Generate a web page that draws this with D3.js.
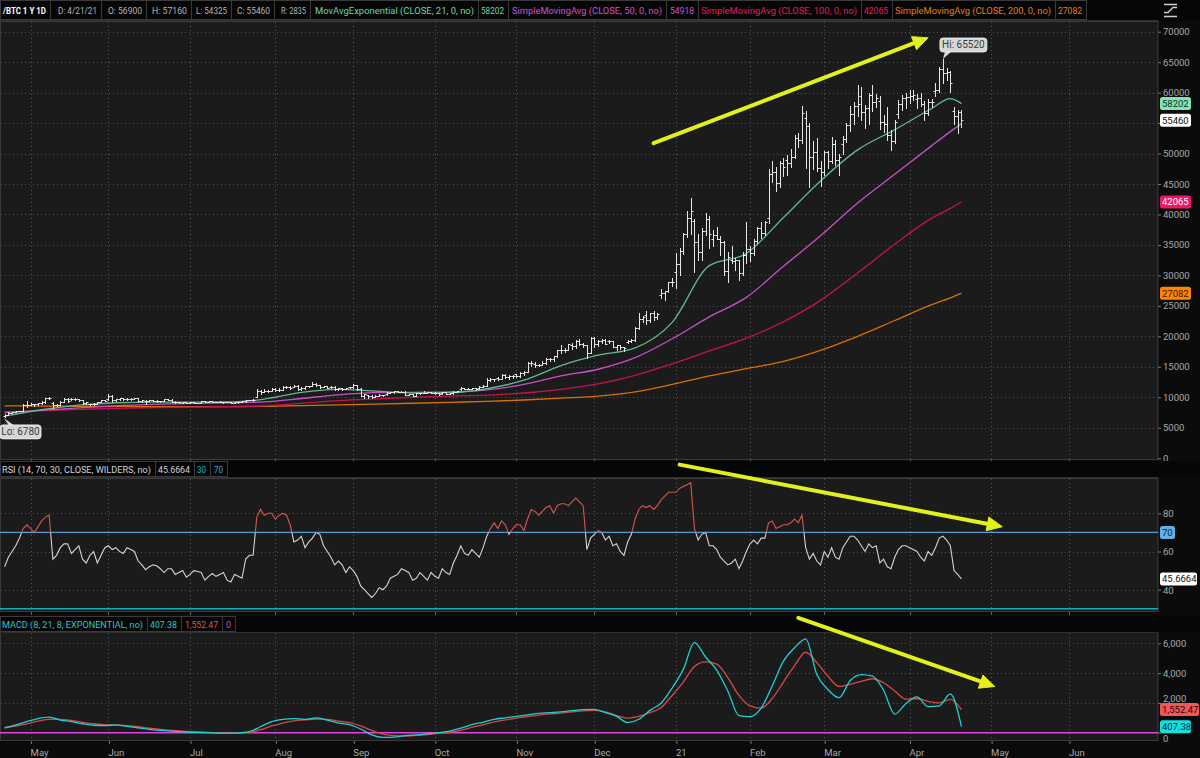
<!DOCTYPE html>
<html>
<head>
<meta charset="utf-8">
<title>/BTC 1 Y 1D</title>
<script src="https://cdn.jsdelivr.net/npm/d3@7/dist/d3.min.js"></script>
<style>
html, body { margin:0; padding:0; background:#0b0b0b; overflow:hidden; }
svg { display:block; }
text { font-family: Roboto, "Open Sans", sans-serif; }
</style>
</head>
<body>
<svg id="chart" width="1200" height="758"></svg>
<script>
// ================= DATA =================
const symbol = "/BTC 1 Y 1D";
const lastDateLabel = "4/21/21";
const holidays = ["2020-12-25", "2021-01-01"];
const calendarStart = "2020-04-22";
const calendarEnd = "2021-06-30";

const monthKeys = ["2020-05","2020-06","2020-07","2020-08","2020-09","2020-10","2020-11","2020-12",
                   "2021-01","2021-02","2021-03","2021-04","2021-05","2021-06"];
const monthLabels = ["May","Jun","Jul","Aug","Sep","Oct","Nov","Dec","21","Feb","Mar","Apr","May","Jun"];
const priceTicks = [0,5000,10000,15000,20000,25000,30000,35000,40000,45000,50000,55000,60000,65000,70000];
const rsiTicks = [40, 60, 80];
const macdTicks = [0, 2000, 4000, 6000];
const rsiOverbought = 70, rsiOversold = 30;

// daily bars [open, high, low, close]
const apr2020 = [[6900,7180,6780,7120],[7120,7650,7050,7480],[7480,7600,7400,7530],[7600,7800,7560,7760],
  [7760,7790,7680,7740],[7750,8950,7720,8800],[8800,9450,8450,8650]];
const may2020 = [[8700,9000,8650,8860],[8880,8950,8600,8890],[8890,9100,8800,9030],[9030,9400,8950,9200],
  [9200,9950,9100,9900],[9900,10000,9700,9800],[9100,9150,8300,8700],[8700,8950,8600,8800],[8800,9350,8750,9300],
  [9300,9850,9250,9780],[9780,9850,9250,9320],[9700,9950,9600,9720],[9720,9850,9500,9750],[9750,9780,9350,9480],
  [9480,9550,8900,9050],[9050,9250,8950,9180],[8900,8970,8700,8900],[8900,9000,8800,8850],[8850,9230,8830,9200],
  [9200,9600,9150,9580],[9580,9620,9350,9450]];
const jun2020 = [[9700,10500,9550,10200],[10200,10300,9300,9500],[9500,9700,9450,9660],[9660,9870,9550,9800],
  [9800,9850,9600,9640],[9700,9800,9600,9770],[9770,9850,9620,9780],[9780,9950,9700,9880],[9880,9950,9250,9320],
  [9320,9550,9300,9480],[9350,9500,8950,9450],[9450,9580,9400,9530],[9530,9560,9380,9460],[9460,9480,9300,9380],
  [9380,9450,9220,9310],[9400,9750,9380,9690],[9690,9720,9580,9630],[9630,9680,9250,9290],[9290,9350,9000,9250],
  [9250,9300,9050,9160],[9100,9220,9050,9190],[9190,9200,9080,9140]];
const jul2020 = [[9140,9290,9100,9230],[9230,9250,9050,9090],[9090,9130,9050,9070],[9100,9360,9080,9340],
  [9340,9360,9220,9250],[9250,9450,9230,9430],[9430,9440,9200,9240],[9240,9300,9150,9290],[9300,9330,9200,9240],
  [9240,9280,9130,9250],[9250,9270,9160,9200],[9200,9210,9050,9130],[9130,9180,9100,9160],[9170,9200,9120,9160],
  [9160,9420,9150,9390],[9390,9550,9280,9520],[9520,9620,9480,9580],[9580,9650,9450,9540],[10100,11300,10050,11000],
  [11000,11250,10600,10900],[10900,11350,10850,11100],[11100,11200,10850,11110],[11110,11450,10950,11350]];
const aug2020 = [[11300,11500,11000,11230],[11230,11450,11100,11190],[11190,11800,11150,11740],[11740,11900,11600,11760],
  [11760,11880,11350,11600],[11700,12050,11650,11880],[11880,11950,11200,11400],[11400,11650,11250,11580],
  [11580,11800,11350,11780],[11780,11850,11650,11770],[11900,12450,11850,12250],[12250,12350,11850,11990],
  [11990,12050,11600,11750],[11750,11900,11650,11870],[11870,11900,11500,11520],[11650,11800,11550,11750],
  [11750,11780,11150,11330],[11330,11550,11250,11460],[11460,11550,11150,11320],[11320,11550,11300,11540],
  [11650,11750,11550,11680]];
const sep2020 = [[11680,12100,11600,11970],[11970,12000,11200,11410],[11410,11450,10150,10240],[10240,10600,9950,10510],
  [10300,10400,9900,10280],[10280,10400,9900,10120],[10120,10350,10050,10240],[10240,10500,10200,10370],
  [10370,10450,10250,10400],[10500,10800,10450,10680],[10680,10900,10620,10790],[10790,11050,10700,10950],
  [10950,11050,10800,10940],[10940,11000,10820,10930],[10900,10980,10350,10420],[10420,10580,10380,10530],
  [10530,10560,10200,10240],[10240,10780,10200,10740],[10740,10780,10600,10690],[10750,10950,10650,10710],
  [10710,10870,10650,10840],[10840,10850,10700,10780]];
const oct2020 = [[10780,10900,10500,10620],[10620,10650,10400,10570],[10650,10800,10550,10790],[10790,10800,10550,10600],
  [10600,10700,10550,10670],[10670,10950,10550,10920],[10920,11100,10850,11060],[11300,11700,11250,11550],
  [11550,11580,11300,11430],[11430,11550,11300,11430],[11430,11600,11280,11500],[11500,11550,11250,11330],
  [11450,11800,11400,11750],[11750,12000,11700,11920],[11920,13200,11900,12820],[12820,13200,12700,12970],
  [12970,13050,12750,12930],[13100,13250,12900,13030],[13030,13800,13000,13650],[13650,13850,13100,13270],
  [13270,13650,12950,13460],[13460,13700,13150,13560]];
const nov2020 = [[13800,13850,13300,13550],[13550,14100,13300,14030],[14030,14250,13600,14150],[14150,15750,14100,15590],
  [15590,15950,15200,15580],[15500,15850,14900,15330],[15330,15500,15100,15310],[15310,15950,15250,15700],
  [15700,16400,15500,16280],[16280,16450,15950,16320],[16200,16800,15900,16720],[16720,17800,16550,17680],
  [17680,18500,17300,17800],[17800,18100,17400,17820],[17820,18800,17750,18680],[18600,18900,18000,18410],
  [18410,19400,18100,19170],[19170,19500,18600,18720],[18720,18900,18300,18500],[18500,18600,16400,17200],
  [17300,19900,17200,19700]];
const dec2020 = [[19700,19950,18300,18800],[18800,19350,18400,19200],[19200,19600,18900,19450],[19450,19550,18700,18700],
  [19200,19400,18900,19170],[19170,19300,18200,18320],[18320,18650,17700,18550],[18550,18600,17950,18250],
  [18250,18300,17600,18040],[19100,19350,18950,19250],[19250,19600,19100,19430],[19430,21500,19300,21350],
  [21350,23800,21200,22800],[22800,23300,22400,23140],[23500,24200,22000,22720],[22720,23900,22400,23800],
  [23800,24150,22700,23240],[23240,23800,22900,23730],[26800,27800,26300,27050],[27050,27500,25900,27360],
  [27360,29000,27300,28840],[28840,29500,28200,29000]];
const jan2021 = [[30500,33600,28000,31900],[31900,34500,30000,34000],[34000,37000,33500,36800],[36800,40500,36300,39400],
  [39400,42700,36800,40600],[39000,39200,30500,35500],[35500,36800,32600,33900],[33900,37800,32500,37300],
  [37300,40200,36700,39200],[39200,39800,34500,36800],[36000,37400,34800,36600],[36600,38000,35900,36000],
  [36000,36400,33400,35500],[35500,35600,30100,30800],[30800,33900,29000,33000],[32500,34900,32000,32300],
  [32300,32900,30900,32500],[32500,32600,29300,30400],[30400,33800,30000,33400],[33400,38800,32000,34300]];
const feb2021 = [[34300,34800,32300,33600],[33600,35900,33400,35700],[35700,37900,35400,37700],[37700,38700,36200,37000],
  [37000,38900,36700,38700],[39500,47500,38600,46700],[46700,48700,45300,46900],[46900,47800,43800,45200],
  [45200,48800,44500,48400],[48400,49200,46300,47800],[49000,49800,46500,48400],[48400,50800,47800,49500],
  [49500,53000,49200,52600],[52600,53300,51000,52200],[52200,57800,51700,56600],[55800,57000,47600,54500],
  [54500,55000,44500,49500],[49500,52100,47500,50300],[50300,52500,47100,47600],[47600,48800,44600,46900]];
const mar2021 = [[46900,50500,46500,50200],[50200,50500,47600,48700],[48700,52700,48400,51500],[51500,52300,48200,49000],
  [49000,50000,46500,49500],[51500,52800,50000,52400],[52400,55000,51900,54700],[54700,57800,53700,56500],
  [56500,58500,54800,57800],[57800,61300,56200,58200],[59500,61000,55500,56800],[56800,58000,54200,57500],
  [57500,60000,54800,59600],[59600,61200,57000,58400],[58400,59800,57600,59200],[58700,59500,54000,55200],
  [55200,56300,53500,54800],[54800,57600,52200,53100],[53100,53800,50600,52100],[52100,55500,51700,55200],
  [56500,58800,55900,58100],[58100,59600,57200,59200],[59200,60000,57500,59300]];
const apr2021 = [[59300,60400,58300,59400],[59400,60500,58800,59600],[58900,59700,57500,59200],[59200,60000,57800,58200],
  [58200,58700,55500,56600],[56600,58900,56300,58500],[58500,59000,57600,58400],[60200,61600,59500,60400],
  [60400,64200,60100,63900],[63900,65520,61500,63200],[63200,64000,62000,63400],[63400,63600,60100,61600],
  [57000,57700,54900,56200],[56200,57200,53300,56900],[56900,57160,54325,55460]];

// moving averages read at these dates
const maDates = ["2020-04-22","2020-05-06","2020-05-20","2020-06-03","2020-06-17","2020-07-01","2020-07-15",
  "2020-07-29","2020-08-12","2020-08-26","2020-09-09","2020-09-23","2020-10-07","2020-10-21","2020-11-04",
  "2020-11-18","2020-12-02","2020-12-16","2020-12-31","2021-01-15","2021-01-29","2021-02-12","2021-02-26",
  "2021-03-12","2021-03-26","2021-04-09","2021-04-16","2021-04-21"];
const ema21 = [6900,7950,8700,9100,9200,9200,9230,9700,10800,11300,11000,10700,10750,11400,12800,15200,16900,
  18100,22300,31600,33600,39500,45500,50600,53900,57400,59000,58202];
const sma50 = [7500,7850,8250,8600,8830,9000,9080,9250,9800,10400,10750,10820,10880,11200,12100,13500,14600,
  16500,19600,23200,26400,31500,36500,41900,46600,51300,53600,54918];
const sma100 = [7600,7800,8000,8180,8300,8380,8450,8600,9000,9450,9750,10000,10200,10350,10700,11300,12200,
  13600,15500,17600,19700,22400,25900,30400,35100,39400,41000,42065];
const sma200 = [8600,8560,8520,8490,8470,8450,8470,8520,8620,8750,8880,9020,9170,9330,9550,9850,10200,
  10900,12100,13500,14700,15900,17700,20000,22600,25200,26300,27082];
const maNames = ["MovAvgExponential (CLOSE, 21, 0, no)","SimpleMovingAvg (CLOSE, 50, 0, no)",
  "SimpleMovingAvg (CLOSE, 100, 0, no)","SimpleMovingAvg (CLOSE, 200, 0, no)"];

// RSI(14) per bar
const rsi2020 = [52,57,60,63,67,72,74,72,70,73, 76,78,79,56,58,62,64,64,59,61, 63,56,54,58,60,54,58,62,63,61,
  62,60,59,62,61,60,55,53,50.5,52, 53,52.5,51,49,51,51,48,49,50,46.5, 48,50,49.5,49,45,47,48.5,47,48,49,
  45,44,48,47,46,56,58,58,78,82, 79,80,80,77,79,80,79,74,65,66, 68,62,65,67,70,69,63,60,57,53,
  55,53,49,52,50,47,42,40,38,36, 38,41,40,42,46,47,48,51,50,49, 45,46,49,47,45,49,47,46,51,49,
  48,54,58,63,59,58,61,59,57,62, 68,72,75,72,76,74,69,72,74,74, 71,77,82,81,79,81,83,84,80,84,
  85,85,84,86,88,86,84,61,67,69, 71,70,66,68,63,64,60,58,65,69, 77,82,84,83,84,82,84,87,89,91,91];
const rsi2021 = [91,93,94,95,96,72,66,69,70,63, 63,61,57,55,53,54,56,51,55,60, 64,66,64,67,67,75,76,72,73,74,
  74,75,77,75,79,62,56,59,55,53, 60,57,62,57,56,62,65,68,68,66, 63,60,64,62,63,54,56,52,51,57,
  61,63,63,62,61,60,57,55,60,58, 62,67,68,66,63,50,48,45.6664];

// MACD(8,21,8) read every 3rd bar
const macdStep = 3;
const macdValue = [300,520,750,950,1050,850,750,600,500,480, 520,430,330,220,150,100,60,30,0,-20,
  -30,-10,80,400,750,900,950,900,1000,850, 650,550,250,-150,-320,-300,-200,-150,-80,0,
  100,300,550,700,900,1000,1100,1200,1300,1350, 1400,1480,1550,1570,1350,1100,680,900,1500,1980,
  3000,4250,6050,5080,4200,2800,1150,1080,1650,3150, 4800,5700,6300,3900,2900,2350,3500,3900,3800,2850,
  1250,1950,2400,1750,1800,2600,407.38];
const macdAvg = [350,450,600,780,900,900,820,700,600,540, 510,470,400,300,220,150,100,60,30,0,
  -15,-20,20,200,450,650,800,860,920,900, 780,670,460,150,-100,-200,-220,-180,-120,-50,
  30,150,350,530,720,860,980,1080,1180,1260, 1320,1400,1470,1500,1400,1150,980,1100,1350,1680,
  2500,3400,4450,4750,4600,3700,2500,1800,1650,2300, 3400,4500,5400,4700,3800,3100,3250,3450,3620,3350,
  2800,2250,2280,2100,2000,2240,1552.47];

// hand-drawn trend arrows (date, value)
const trendArrows = [
  {panel: "price", from: ["2020-12-23", 51700], to: ["2021-04-08", 69000]},
  {panel: "rsi",   from: ["2021-01-05", 105.5], to: ["2021-05-06", 73]},
  {panel: "macd",  from: ["2021-02-18", 7700],  to: ["2021-05-04", 3100]}
];

// ================= CHART =================
const FONT = "Roboto, 'Open Sans', sans-serif";
const parse = d3.utcParse("%Y-%m-%d"), fmt = d3.utcFormat("%Y-%m-%d");
const days = d3.utcDay.range(parse(calendarStart), d3.utcDay.offset(parse(calendarEnd), 1))
  .filter(d => d.getUTCDay() !== 0 && d.getUTCDay() !== 6 && !holidays.includes(fmt(d)))
  .map(fmt);
const idxOf = new Map(days.map((d, i) => [d, i]));

const ohlc = [].concat(apr2020, may2020, jun2020, jul2020, aug2020, sep2020, oct2020, nov2020,
  dec2020, jan2021, feb2021, mar2021, apr2021);
const bars = ohlc.map((b, i) => ({i, date: days[i], o: b[0], h: b[1], l: b[2], c: b[3]}));
const last = bars[bars.length - 1];
const rsi = rsi2020.concat(rsi2021).map((v, i) => ({i, v}));
const macdV = macdValue.map((v, k) => ({i: k * macdStep, v}));
const macdA = macdAvg.map((v, k) => ({i: k * macdStep, v}));
const lastOf = a => a[a.length - 1];

const PR = 1158;
const PT = 21, PB = 460, RT = 478, RB = 612, MT = 632, MB = 741;
const x = d3.scaleLinear().domain([-1.25, 311]).range([0, PR]);
const y = d3.scaleLinear().domain([0, 70000]).range([458.2, 31.7]);
const yR = d3.scaleLinear().domain([40, 80]).range([589.7, 513.3]);
const yM = d3.scaleLinear().domain([0, 6000]).range([732.7, 643.3]);

const C = {bg: "#0b0b0b", plot: "#1b1b1b", border: "#3a3a3a", grid: "#565656", axis: "#a9a9a9",
  bar: "#e6e6e6", ema: "#62b98e", sma50: "#c950c9", sma100: "#c8124f", sma200: "#d97000",
  rsi: "#d4d4d4", rsiHot: "#d6574f", ob: "#4d9fd6", os: "#10b2ba", macd: "#1fd0d6", avg: "#d54a48",
  zero: "#dd44dd", yellow: "#e3f01b"};

const svg = d3.select("#chart");
svg.append("rect").attr("width", 1200).attr("height", 758).attr("fill", C.bg);

const defs = svg.append("defs");
function clip(id, x0, y0, w, h) {
  defs.append("clipPath").attr("id", id).append("rect").attr("x", x0).attr("y", y0).attr("width", w).attr("height", h);
}
clip("cP", 0, PT, PR, PB - PT);
clip("cR", 0, RT, PR, RB - RT);
clip("cM", 0, MT, PR, MB - MT);
clip("cRhi", 0, RT, PR, yR(rsiOverbought) - RT);
clip("cRlo", 0, yR(rsiOverbought), PR, RB - yR(rsiOverbought));

// panels
[[PT, PB], [RT, RB], [MT, MB]].forEach(([t, b]) => {
  svg.append("rect").attr("x", 0.5).attr("y", t + 0.5).attr("width", PR - 0.5).attr("height", b - t - 1)
    .attr("fill", C.plot).attr("stroke", C.border);
});

// grids
const monthIdx = monthKeys.map(k => days.findIndex(d => d.startsWith(k)));
function vgrid(t, b) {
  svg.append("g").selectAll("line").data(monthIdx).join("line")
    .attr("x1", d => Math.round(x(d)) + 0.5).attr("x2", d => Math.round(x(d)) + 0.5)
    .attr("y1", t + 1).attr("y2", b - 1)
    .attr("stroke", C.grid).attr("stroke-dasharray", "1,3");
}
function hgrid(vals, sc) {
  svg.append("g").selectAll("line").data(vals).join("line")
    .attr("x1", 1).attr("x2", PR - 1)
    .attr("y1", d => Math.round(sc(d)) + 0.5).attr("y2", d => Math.round(sc(d)) + 0.5)
    .attr("stroke", C.grid).attr("stroke-dasharray", "1,3");
}
vgrid(PT, PB); vgrid(RT, RB); vgrid(MT, MB);
hgrid(priceTicks.filter(d => d > 0), y);
hgrid(rsiTicks, yR);
hgrid(macdTicks.filter(d => d > 0), yM);

// small month ticks under the price and RSI panels
[PB, RB].forEach(b => {
  svg.append("g").selectAll("line").data(monthIdx).join("line")
    .attr("x1", d => Math.round(x(d)) + 0.5).attr("x2", d => Math.round(x(d)) + 0.5)
    .attr("y1", b).attr("y2", b + 3).attr("stroke", "#666");
});

// ----- price panel -----
const gP = svg.append("g").attr("clip-path", "url(#cP)");
const maLine = d3.line().x(d => x(d.i)).y(d => y(d.v)).curve(d3.curveMonotoneX);
[[sma200, C.sma200], [sma100, C.sma100], [sma50, C.sma50], [ema21, C.ema]].forEach(([arr, col]) => {
  const pts = maDates.map((d, j) => ({i: idxOf.get(d), v: arr[j]}));
  gP.append("path").attr("d", maLine(pts)).attr("fill", "none").attr("stroke", col).attr("stroke-width", 1.3);
});
const px = v => Math.round(v) + 0.5;
gP.append("g").selectAll("path").data(bars).join("path")
  .attr("d", b => {
    const cx = px(x(b.i));
    return `M${cx},${px(y(b.h)) - 0.5}V${px(y(b.l)) + 0.5}M${cx - 2},${px(y(b.o))}H${cx}M${cx},${px(y(b.c))}H${cx + 2}`;
  })
  .attr("fill", "none").attr("stroke", C.bar).attr("stroke-width", 1);

// Hi / Lo bubbles
const hiBar = bars.reduce((a, b) => b.h > a.h ? b : a);
const loBar = bars.reduce((a, b) => b.l < a.l ? b : a);
{
  const hx = x(hiBar.i), hy = y(hiBar.h);
  svg.append("path").attr("d", `M${hx + 2},${hy - 7}L${hx + 8},${hy - 7}L${hx},${hy}Z`).attr("fill", "#d6d6d6");
  svg.append("rect").attr("x", hx - 3).attr("y", hy - 21).attr("width", 47).attr("height", 14).attr("rx", 3)
    .attr("fill", "#d6d6d6").attr("stroke", "#f0f0f0").attr("stroke-width", 0.8);
  svg.append("text").attr("x", hx + 20.5).attr("y", hy - 10.5).attr("text-anchor", "middle")
    .attr("font-size", 10).attr("fill", "#3a3a3a").text("Hi: " + hiBar.h);
  const lx = x(loBar.i), ly = y(loBar.l);
  svg.append("path").attr("d", `M${lx - 1},${ly + 1}L${lx + 4},${ly + 8}L${lx + 9},${ly + 8}Z`).attr("fill", "#d6d6d6");
  svg.append("rect").attr("x", 0).attr("y", ly + 8).attr("width", 41).attr("height", 14).attr("rx", 3)
    .attr("fill", "#d6d6d6").attr("stroke", "#f0f0f0").attr("stroke-width", 0.8);
  svg.append("text").attr("x", 20.5).attr("y", ly + 18.5).attr("text-anchor", "middle")
    .attr("font-size", 10).attr("fill", "#3a3a3a").text("Lo: " + loBar.l);
}

// ----- RSI panel -----
const gR = svg.append("g").attr("clip-path", "url(#cR)");
gR.append("line").attr("x1", 0).attr("x2", PR).attr("y1", yR(rsiOverbought)).attr("y2", yR(rsiOverbought))
  .attr("stroke", C.ob).attr("stroke-width", 1.2);
gR.append("line").attr("x1", 0).attr("x2", PR).attr("y1", yR(rsiOversold)).attr("y2", yR(rsiOversold))
  .attr("stroke", C.os).attr("stroke-width", 1.5);
const rsiLine = d3.line().x(d => x(d.i)).y(d => yR(d.v));
gR.append("path").attr("d", rsiLine(rsi)).attr("clip-path", "url(#cRlo)")
  .attr("fill", "none").attr("stroke", C.rsi).attr("stroke-width", 1.1);
gR.append("path").attr("d", rsiLine(rsi)).attr("clip-path", "url(#cRhi)")
  .attr("fill", "none").attr("stroke", C.rsiHot).attr("stroke-width", 1.1);

// ----- MACD panel -----
const gM = svg.append("g").attr("clip-path", "url(#cM)");
gM.append("line").attr("x1", 0).attr("x2", PR).attr("y1", yM(0)).attr("y2", yM(0))
  .attr("stroke", C.zero).attr("stroke-width", 1.4);
const mLine = d3.line().x(d => x(d.i)).y(d => yM(d.v)).curve(d3.curveMonotoneX);
gM.append("path").attr("d", mLine(macdA)).attr("fill", "none").attr("stroke", C.avg).attr("stroke-width", 1.3);
gM.append("path").attr("d", mLine(macdV)).attr("fill", "none").attr("stroke", C.macd).attr("stroke-width", 1.3);

// ----- axes -----
function styleAxis(g) {
  g.select(".domain").remove();
  g.attr("font-family", FONT).attr("font-size", 9.5);
  g.selectAll("line").attr("stroke", "#7a7a7a");
  g.selectAll("text").attr("fill", C.axis);
}
// nudge a tick label just clear of a value tag it would otherwise sit under
function clearOfTags(g, sc, tagVals, gap) {
  g.selectAll(".tick text").each(function(d) {
    let shift = 0;
    tagVals.forEach(v => {
      const diff = sc(d) - sc(v);
      if (Math.abs(diff) < gap) shift = (diff >= 0 ? 1 : -1) * (gap - Math.abs(diff));
    });
    if (shift) d3.select(this).attr("y", shift);
  });
}
// price tick labels that sit under the last-price tag are hidden, as on the reference
const priceTagLevels = [last.c];
svg.append("g").attr("transform", `translate(${PR},0)`)
  .call(d3.axisRight(y).tickValues(priceTicks).tickSize(3).tickPadding(2).tickFormat(d3.format("d"))).call(styleAxis)
  .call(g => g.selectAll(".tick text").filter(d => priceTagLevels.some(v => Math.abs(y(v) - y(d)) < 8)).remove());
svg.append("g").attr("transform", `translate(${PR},0)`)
  .call(d3.axisRight(yR).tickValues(rsiTicks).tickSize(3).tickPadding(2)).call(styleAxis)
  .call(g => clearOfTags(g, yR, [lastOf(rsi2021)], 11.5));
svg.append("g").attr("transform", `translate(${PR},0)`)
  .call(d3.axisRight(yM).tickValues(macdTicks).tickSize(3).tickPadding(2).tickFormat(d3.format(","))).call(styleAxis)
  .call(g => clearOfTags(g, yM, [lastOf(macdAvg), lastOf(macdValue)], 11.5));
svg.append("g").attr("transform", `translate(0,${MB})`)
  .call(d3.axisBottom(x).tickValues(monthIdx).tickFormat((d, i) => monthLabels[i]).tickSize(3).tickPadding(5))
  .call(styleAxis)
  .call(g => g.selectAll(".tick line").attr("transform", "translate(0.5,0)"))
  .call(g => g.selectAll("text").attr("text-anchor", "start").attr("dx", "-0.5"));

// value tags on the right axis
function tag(yc, text, bg, fg, w) {
  svg.append("rect").attr("x", 1160).attr("y", yc - 6.5).attr("width", w).attr("height", 13).attr("rx", 2.5).attr("fill", bg);
  svg.append("text").attr("x", 1162).attr("y", yc + 3.4).attr("font-size", 9.5).attr("font-family", FONT)
    .attr("fill", fg).text(text);
}
tag(y(lastOf(sma200)), lastOf(sma200), "#ff8500", "#3a1a00", 31);
tag(y(lastOf(sma100)), lastOf(sma100), "#f0166a", "#ffffff", 31);
tag(y(lastOf(ema21)), lastOf(ema21), "#86e3b6", "#123322", 31);
tag(y(last.c), last.c, "#ffffff", "#111111", 31);
tag(yR(rsiOverbought), rsiOverbought, "#62b1e6", "#0b2233", 15);
tag(yR(lastOf(rsi2021)), lastOf(rsi2021), "#ffffff", "#111111", 37);
tag(yM(lastOf(macdAvg)), d3.format(",.2f")(lastOf(macdAvg)), "#ef5858", "#2a0505", 39);
tag(yM(lastOf(macdValue)), d3.format(",.2f")(lastOf(macdValue)), "#14e0e4", "#052a2a", 31);

// ----- header rows -----
function headerRow(yTop, h, items) {
  const g = svg.append("g");
  g.append("rect").attr("x", 0).attr("y", yTop).attr("width", 1200).attr("height", h).attr("fill", "#060606");
  let endX = 0;
  items.forEach(it => {
    g.append("text").attr("x", it.x).attr("y", yTop + h / 2 + 3.5).attr("font-size", 9.5)
      .attr("font-family", FONT)
      .attr("font-weight", it.bold ? 700 : 400).attr("fill", it.color)
      .attr("textLength", it.w).attr("lengthAdjust", "spacingAndGlyphs").text(it.t);
    endX = it.x + it.w + 4;
    g.append("line").attr("x1", endX + 0.5).attr("x2", endX + 0.5).attr("y1", yTop + 1).attr("y2", yTop + h - 1)
      .attr("stroke", "#3a3a3a");
  });
  g.append("rect").attr("x", 0.5).attr("y", yTop + 0.5).attr("width", endX).attr("height", h - 1)
    .attr("fill", "none").attr("stroke", "#3a3a3a");
  g.append("line").attr("x1", 0).attr("x2", PR).attr("y1", yTop + h + 0.5).attr("y2", yTop + h + 0.5).attr("stroke", "#2e2e2e");
}
const gray = "#b4b4b4";
headerRow(0, 20, [
  {t: symbol, x: 3, w: 43, color: "#ffffff", bold: true},
  {t: "D: " + lastDateLabel, x: 58, w: 39, color: gray},
  {t: "O: " + last.o, x: 108, w: 34, color: gray},
  {t: "H: " + last.h, x: 152, w: 35, color: gray},
  {t: "L: " + last.l, x: 196, w: 31, color: gray},
  {t: "C: " + last.c, x: 237, w: 33, color: gray},
  {t: "R: " + (last.h - last.l), x: 281, w: 25, color: gray},
  {t: maNames[0], x: 315, w: 159, color: "#66d8a2"},
  {t: String(lastOf(ema21)), x: 481, w: 23, color: "#66d8a2"},
  {t: maNames[1], x: 512, w: 150, color: "#d24fd2"},
  {t: String(lastOf(sma50)), x: 670, w: 24, color: "#d24fd2"},
  {t: maNames[2], x: 701, w: 156, color: "#e8175d"},
  {t: String(lastOf(sma100)), x: 864, w: 24, color: "#e8175d"},
  {t: maNames[3], x: 895, w: 156, color: "#e87e04"},
  {t: String(lastOf(sma200)), x: 1058, w: 24, color: "#e87e04"}
]);
headerRow(461, 16, [
  {t: "RSI (14, 70, 30, CLOSE, WILDERS, no)", x: 2, w: 149, color: "#d2d2d2"},
  {t: String(lastOf(rsi2021)), x: 158, w: 32, color: "#d2d2d2"},
  {t: String(rsiOversold), x: 197, w: 9, color: "#12b8c0"},
  {t: String(rsiOverbought), x: 214, w: 9, color: "#4da3e0"}
]);
headerRow(616, 16, [
  {t: "MACD (8, 21, 8, EXPONENTIAL, no)", x: 2, w: 141, color: "#22c8d0"},
  {t: d3.format(",.2f")(lastOf(macdValue)), x: 150, w: 27, color: "#22c8d0"},
  {t: d3.format(",.2f")(lastOf(macdAvg)), x: 185, w: 33, color: "#e05252"},
  {t: "0", x: 226, w: 5, color: "#d040d0"}
]);

// settings icon top right
svg.append("path").attr("d", "M1164,4.5H1177M1164,12.5H1168L1173,7.5H1177M1164,16.5H1177")
  .attr("fill", "none").attr("stroke", "#d0d0d0").attr("stroke-width", 1.3);

// ----- trend arrows -----
const panelScale = {price: y, rsi: yR, macd: yM};
trendArrows.forEach(a => {
  const sc = panelScale[a.panel];
  const x0 = x(idxOf.get(a.from[0])), y0 = sc(a.from[1]);
  const x1 = x(idxOf.get(a.to[0])), y1 = sc(a.to[1]);
  const dx = x1 - x0, dy = y1 - y0, L = Math.hypot(dx, dy), ux = dx / L, uy = dy / L;
  const hl = 15, hw = 7;
  const bx = x1 - ux * hl, by = y1 - uy * hl;
  svg.append("line").attr("x1", x0).attr("y1", y0).attr("x2", bx + ux * 2).attr("y2", by + uy * 2)
    .attr("stroke", C.yellow).attr("stroke-width", 4).attr("stroke-linecap", "round");
  svg.append("path")
    .attr("d", `M${x1},${y1}L${bx - uy * hw},${by + ux * hw}L${bx + uy * hw},${by - ux * hw}Z`)
    .attr("fill", C.yellow).attr("stroke", C.yellow).attr("stroke-linejoin", "round");
});
</script>
</body>
</html>
